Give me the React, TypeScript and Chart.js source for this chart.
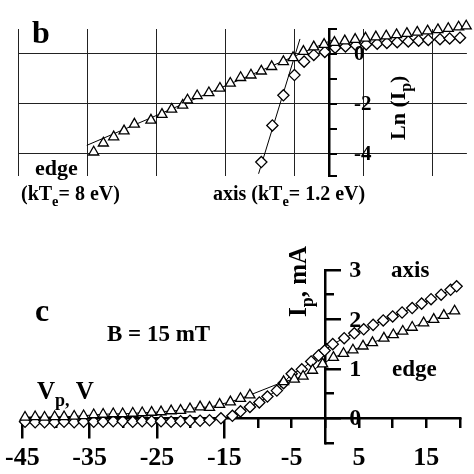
import React, { useEffect, useRef } from 'react';
import { Chart, registerables } from 'chart.js';
Chart.register(...registerables);

const FONT = "'Liberation Serif', 'Times New Roman', serif";

// ---------- panel b : Ln(Ip) vs Vp ----------
const bEdgeV = [-34.1, -32.7, -31.2, -29.7, -28.2, -25.8, -24.2, -22.8, -21.2, -20.5, -19.1, -17.4, -15.8, -14.3, -12.8, -11.3, -9.8, -8.3, -6.6, -5.2, -3.7, -2.2, -0.7, 0.8, 2.3, 3.8, 5.3, 6.8, 8.3, 9.8, 11.3, 12.8, 14.3, 15.8, 17.3, 18.8, 19.9];
const bEdgeLn = [-3.94, -3.58, -3.33, -3.09, -2.82, -2.66, -2.43, -2.22, -2.06, -1.85, -1.68, -1.56, -1.38, -1.18, -0.95, -0.85, -0.69, -0.51, -0.31, -0.15, 0.1, 0.28, 0.38, 0.46, 0.52, 0.58, 0.63, 0.68, 0.72, 0.77, 0.82, 0.87, 0.92, 0.97, 1.02, 1.08, 1.12];
const bAxisV = [-9.8, -8.2, -6.6, -5.0, -3.6, -2.2, -0.6, 0.9, 2.4, 3.9, 5.4, 7.0, 8.4, 9.9, 11.5, 13.0, 14.4, 16.1, 17.5, 19.0];
const bAxisLn = [-4.34, -2.87, -1.66, -0.85, -0.31, -0.04, 0.08, 0.25, 0.3, 0.35, 0.38, 0.41, 0.44, 0.47, 0.5, 0.53, 0.56, 0.59, 0.62, 0.65];
const bEdgeFitV = [-35.1, 0.5];
const bEdgeFitLn = [-3.67, 0.56];
const bAxisFitV = [-10.2, -4.2];
const bAxisFitLn = [-4.81, 0.6];
const bGridX = [-45, -35, -25, -15, -5, 5, 15];
const bGridY = [0, -2, -4];
const bAxisTicks = [-4.9, -4, -3, -2, -1, 0, 1];
const bAxisLabels = [-4, -2, 0];

// ---------- panel c : Ip (mA) vs Vp ----------
const cEdgeV = [-44.6, -43.1, -41.7, -40.2, -38.8, -37.3, -35.9, -34.4, -33.0, -31.5, -30.1, -28.6, -27.2, -25.8, -24.4, -22.9, -21.5, -20.1, -18.6, -17.2, -15.7, -14.1, -12.6, -11.2, -6.2, -4.6, -3.3, -1.9, -0.4, 1.2, 2.7, 4.1, 5.6, 7.0, 8.7, 10.1, 11.5, 12.9, 14.6, 16.1, 17.6, 19.2];
const cEdgeI = [0.02, 0.03, 0.02, 0.03, 0.03, 0.04, 0.05, 0.07, 0.08, 0.09, 0.09, 0.1, 0.11, 0.12, 0.13, 0.15, 0.16, 0.19, 0.23, 0.22, 0.28, 0.33, 0.4, 0.47, 0.74, 0.79, 0.85, 0.97, 1.1, 1.23, 1.31, 1.38, 1.46, 1.53, 1.62, 1.69, 1.76, 1.84, 1.93, 2.0, 2.08, 2.17];
const cAxisV = [-44.6, -43.1, -41.7, -40.2, -38.8, -37.3, -35.9, -34.4, -33.0, -31.5, -30.1, -28.6, -27.2, -25.8, -24.4, -22.9, -21.5, -20.1, -18.6, -17.2, -15.5, -13.8, -12.6, -11.2, -9.8, -8.6, -7.2, -6.2, -5.0, -3.5, -2.1, -1.0, -0.1, 1.1, 2.8, 4.3, 5.7, 7.1, 8.6, 10.0, 11.4, 12.9, 14.3, 15.7, 17.2, 18.6, 19.5];
const cAxisI = [-0.07, -0.08, -0.08, -0.08, -0.07, -0.08, -0.07, -0.07, -0.07, -0.06, -0.06, -0.07, -0.06, -0.06, -0.06, -0.07, -0.06, -0.05, -0.05, -0.04, 0.0, 0.05, 0.14, 0.23, 0.32, 0.44, 0.56, 0.71, 0.9, 0.99, 1.15, 1.27, 1.37, 1.5, 1.62, 1.72, 1.8, 1.89, 1.98, 2.06, 2.14, 2.23, 2.32, 2.41, 2.5, 2.6, 2.67];
const cXLongTicks = [-45, -35, -25, -15];
const cXShortTicks = [-40, -30, -20, -10, -5, 0, 5, 10, 15, 20];
const cXLabels = [-45, -35, -25, -15, -5, 5, 15];
const cYMajor = [0, 1, 2, 3];
const cYMinor = [-0.5, 0.5, 1.5, 2.5];

const pts = (xs: number[], ys: number[]) => xs.map((x, i) => ({ x, y: ys[i] }));
const setTicks = (vals: number[]) => (s: any) => { s.ticks = vals.map((v) => ({ value: v })); };
const bold = (size: number) => ({ family: FONT, size, weight: 'bold' as const });

type Seg = { t: string; sub?: boolean };
function drawRich(ctx: CanvasRenderingContext2D, segs: Seg[], x: number, y: number, size: number, rotate = false) {
  ctx.save();
  ctx.translate(x, y);
  if (rotate) ctx.rotate(-Math.PI / 2);
  ctx.fillStyle = '#000';
  ctx.textBaseline = 'alphabetic';
  ctx.textAlign = 'left';
  let cx = 0;
  for (const s of segs) {
    const fs = s.sub ? size * 0.72 : size;
    ctx.font = `bold ${fs}px ${FONT}`;
    ctx.fillText(s.t, cx, s.sub ? size * 0.28 : 0);
    cx += ctx.measureText(s.t).width;
  }
  ctx.restore();
}

// y tick labels placed to the right of an axis that sits at x = 0, via the chart's scales
function drawYLabels(chart: any, values: number[], size: number, gap: number) {
  const ctx = chart.ctx as CanvasRenderingContext2D;
  const x0 = chart.scales.x.getPixelForValue(0);
  const ys = chart.scales.y;
  ctx.save();
  ctx.fillStyle = '#000';
  ctx.font = `bold ${size}px ${FONT}`;
  ctx.textAlign = 'left';
  ctx.textBaseline = 'middle';
  for (const v of values) ctx.fillText(String(v), x0 + gap, ys.getPixelForValue(v) + 1);
  ctx.restore();
}

const markerTri = { pointStyle: 'triangle', pointRadius: 5.8, pointBackgroundColor: '#fff', pointBorderColor: '#000', pointBorderWidth: 1.3 };
const markerDia = { pointStyle: 'rectRot', pointRadius: 5.6, pointBackgroundColor: '#fff', pointBorderColor: '#000', pointBorderWidth: 1.3 };

export default function App() {
  const refB = useRef<HTMLCanvasElement>(null);
  const refC = useRef<HTMLCanvasElement>(null);

  useEffect(() => {
    const textsB = {
      id: 'textsB',
      afterDraw(chart: any) {
        const ctx = chart.ctx as CanvasRenderingContext2D;
        drawYLabels(chart, bAxisLabels, 21, 25);
        drawRich(ctx, [{ t: 'b' }], 32, 43, 32);
        drawRich(ctx, [{ t: 'edge' }], 35, 175, 22);
        drawRich(ctx, [{ t: '(kT' }, { t: 'e', sub: true }, { t: '= 8 eV)' }], 21, 200, 20);
        drawRich(ctx, [{ t: 'axis (kT' }, { t: 'e', sub: true }, { t: '= 1.2 eV)' }], 213, 200, 20);
        drawRich(ctx, [{ t: 'Ln (I' }, { t: 'p', sub: true }, { t: ')' }], 405, 140, 22, true);
      },
    };
    const chartB = new Chart(refB.current!, {
      type: 'scatter',
      data: {
        datasets: [
          { label: 'edge', data: pts(bEdgeV, bEdgeLn), showLine: false, clip: false, ...markerTri } as any,
          { label: 'axis', data: pts(bAxisV, bAxisLn), showLine: false, clip: false, ...markerDia } as any,
          { label: 'edge fit', data: pts(bEdgeFitV, bEdgeFitLn), showLine: true, pointRadius: 0, borderColor: '#000', borderWidth: 1, clip: false } as any,
          { label: 'axis fit', data: pts(bAxisFitV, bAxisFitLn), showLine: true, pointRadius: 0, borderColor: '#000', borderWidth: 1, clip: false } as any,
        ],
      },
      options: {
        responsive: false,
        animation: false,
        layout: { padding: { left: 18.5, right: 1.5, top: 29, bottom: 64 } },
        plugins: { legend: { display: false }, tooltip: { enabled: false } },
        scales: {
          x: {
            type: 'linear', min: -45, max: 20, position: { y: 0 } as any,
            afterBuildTicks: setTicks(bGridX),
            ticks: { display: false },
            grid: { color: '#222', lineWidth: 1, drawTicks: false },
            border: { display: false },
          },
          yg: {
            type: 'linear', min: -4.9, max: 1, position: { x: -45 } as any,
            afterBuildTicks: setTicks(bGridY),
            ticks: { display: false },
            grid: { color: '#222', lineWidth: 1, drawTicks: false },
            border: { display: false },
          },
          y: {
            type: 'linear', min: -4.9, max: 1, position: { x: 0 } as any,
            afterBuildTicks: setTicks(bAxisTicks),
            grid: { drawOnChartArea: false, drawTicks: true, tickLength: -9, color: '#000', lineWidth: 2 },
            border: { display: true, color: '#000', width: 2.5 },
            ticks: { display: false },
          },
        },
      } as any,
      plugins: [textsB],
    });

    const textsC = {
      id: 'textsC',
      afterDraw(chart: any) {
        const ctx = chart.ctx as CanvasRenderingContext2D;
        drawYLabels(chart, cYMajor, 24, 24);
        drawRich(ctx, [{ t: 'c' }], 35, 86, 32);
        drawRich(ctx, [{ t: 'B = 15 mT' }], 107, 106, 23);
        drawRich(ctx, [{ t: 'V' }, { t: 'p,', sub: true }, { t: ' V' }], 37, 164, 25);
        drawRich(ctx, [{ t: 'I' }, { t: 'p', sub: true }, { t: ', mA' }], 306, 82, 25, true);
        drawRich(ctx, [{ t: 'axis' }], 391, 42, 23);
        drawRich(ctx, [{ t: 'edge' }], 392, 141, 23);
      },
    };
    const chartC = new Chart(refC.current!, {
      type: 'scatter',
      data: {
        datasets: [
          { label: 'edge', data: pts(cEdgeV, cEdgeI), showLine: true, borderColor: '#000', borderWidth: 1, clip: false, ...markerTri } as any,
          { label: 'axis', data: pts(cAxisV, cAxisI), showLine: true, borderColor: '#000', borderWidth: 1, clip: false, ...markerDia } as any,
        ],
      },
      options: {
        responsive: false,
        animation: false,
        layout: { padding: { left: 18.5, right: 1.5, top: 35, bottom: 31 } },
        plugins: { legend: { display: false }, tooltip: { enabled: false } },
        scales: {
          x: {
            type: 'linear', min: -45, max: 20, position: { y: 0 } as any,
            afterBuildTicks: setTicks(cXLongTicks),
            grid: { drawOnChartArea: false, drawTicks: true, tickLength: 19, color: '#000', lineWidth: 2.5 },
            border: { display: true, color: '#000', width: 2.5 },
            ticks: { color: '#000', font: bold(26), padding: 5, maxRotation: 0, autoSkip: false,
              callback: (v: any) => (cXLabels.includes(Number(v)) ? String(v) : '') },
          },
          x2: {
            type: 'linear', min: -45, max: 20, position: { y: 0 } as any,
            afterBuildTicks: setTicks(cXShortTicks),
            grid: { drawOnChartArea: false, drawTicks: true, tickLength: 10, color: '#000', lineWidth: 2.5 },
            border: { display: false },
            ticks: { color: '#000', font: bold(26), padding: 14, maxRotation: 0, autoSkip: false,
              callback: (v: any) => (cXLabels.includes(Number(v)) ? String(v) : '') },
          },
          y: {
            type: 'linear', min: -0.5, max: 3, position: { x: 0 } as any,
            afterBuildTicks: setTicks(cYMajor),
            grid: { drawOnChartArea: false, drawTicks: true, tickLength: -17, color: '#000', lineWidth: 2.5 },
            border: { display: true, color: '#000', width: 2.5 },
            ticks: { display: false },
          },
          y2: {
            type: 'linear', min: -0.5, max: 3, position: { x: 0 } as any,
            afterBuildTicks: setTicks(cYMinor),
            grid: { drawOnChartArea: false, drawTicks: true, tickLength: -9, color: '#000', lineWidth: 2.5 },
            border: { display: false },
            ticks: { display: false },
          },
        },
      } as any,
      plugins: [textsC],
    });

    return () => {
      chartB.destroy();
      chartC.destroy();
    };
  }, []);

  return (
    <div style={{ position: 'fixed', left: 0, top: 0, width: 474, height: 474, background: '#fff' }}>
      <canvas ref={refB} width={474} height={240} style={{ position: 'absolute', left: 0, top: 0, width: 474, height: 240 }} />
      <canvas ref={refC} width={474} height={239} style={{ position: 'absolute', left: 0, top: 235, width: 474, height: 239 }} />
    </div>
  );
}
